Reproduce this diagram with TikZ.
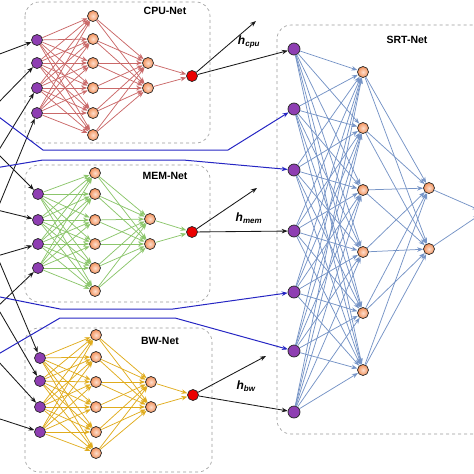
\documentclass[tikz,border=0pt]{standalone}
\usepackage{fontspec}
\setmainfont{Liberation Sans}
\usetikzlibrary{arrows.meta}

\definecolor{netpurple}{RGB}{142,62,178}
\definecolor{netorange}{RGB}{244,145,90}
\definecolor{cpucol}{RGB}{202,105,105}
\definecolor{memcol}{RGB}{140,198,108}
\definecolor{bwcol}{RGB}{224,172,30}
\definecolor{srtcol}{RGB}{118,148,198}
\definecolor{linkblue}{RGB}{38,38,195}

\tikzset{
  innode/.style={circle, draw=black!85, fill=netpurple, inner sep=0pt, minimum size=11pt, line width=0.7pt},
  hidnode/.style={circle, draw=black!85, inner sep=0pt, minimum size=11pt, line width=0.7pt,
    inner color=netorange!30, outer color=netorange},
  outnode/.style={circle, draw=black!85, fill=red!92!black, inner sep=0pt, minimum size=11pt, line width=0.7pt},
  netbox/.style={draw=gray!80, dashed, rounded corners=14pt, line width=0.6pt},
  netlabel/.style={font=\fontsize{10.5}{12}\selectfont\bfseries},
  hlabel/.style={font=\fontsize{12}{13}\selectfont\bfseries\itshape},
  feed/.style={->, black!90, line width=0.85pt},
  linkline/.style={->, linkblue, line width=1pt},
  cpuedge/.style={->, cpucol, line width=0.75pt},
  memedge/.style={->, memcol, line width=0.75pt},
  bwedge/.style={->, bwcol, line width=0.75pt},
  srtedge/.style={->, srtcol, line width=0.75pt}
}

\begin{document}
\begin{tikzpicture}[x=1pt, y=-1pt, >={Stealth[length=6pt,width=4.5pt]}]
\useasboundingbox (0,0) rectangle (474,474);
\clip (0,0) rectangle (474,474);

% sub-network frames
\draw[netbox] (25,2) rectangle (210,143);
\draw[netbox] (25,165) rectangle (210,302);
\draw[netbox] (25,328) rectangle (212,472);
\draw[netbox] (277,25) rectangle (510,434);
\node[netlabel] (cpulabel) at (165,11) {CPU-Net};
\node[netlabel] (memlabel) at (165,176) {MEM-Net};
\node[netlabel] (bwlabel) at (160,341) {BW-Net};
\node[netlabel] (srtlabel) at (407,40) {SRT-Net};

% CPU-Net
\foreach \y [count=\k] in {40,63,88,113} \node[innode] (ci\k) at (37,\y) {};
\foreach \y [count=\k] in {16,39,63,88,113,135} \node[hidnode] (ch\k) at (93,\y) {};
\foreach \y [count=\k] in {63,88} \node[hidnode] (cg\k) at (148,\y) {};
\node[outnode] (co) at (192,76) {};
\foreach \i in {1,...,4} \foreach \j in {1,...,6} \draw[cpuedge] (ci\i) -- (ch\j);
\foreach \i in {1,...,6} \foreach \j in {1,2} \draw[cpuedge] (ch\i) -- (cg\j);
\foreach \i in {1,2} \draw[cpuedge] (cg\i) -- (co);

% MEM-Net
\foreach \y [count=\k] in {194,220,244,268} \node[innode] (mi\k) at (38,\y) {};
\foreach \y [count=\k] in {173,194,220,244,268,291} \node[hidnode] (mh\k) at (95,\y) {};
\foreach \y [count=\k] in {219,244} \node[hidnode] (mg\k) at (150,\y) {};
\node[outnode] (mo) at (192,232) {};
\foreach \i in {1,...,4} \foreach \j in {1,...,6} \draw[memedge] (mi\i) -- (mh\j);
\foreach \i in {1,...,6} \foreach \j in {1,2} \draw[memedge] (mh\i) -- (mg\j);
\foreach \i in {1,2} \draw[memedge] (mg\i) -- (mo);

% BW-Net
\foreach \y [count=\k] in {358,381,407,432} \node[innode] (bi\k) at (40,\y) {};
\foreach \y [count=\k] in {335,357,382,407,432,453} \node[hidnode] (bh\k) at (96,\y) {};
\foreach \y [count=\k] in {382,407} \node[hidnode] (bg\k) at (151,\y) {};
\node[outnode] (bo) at (193,395) {};
\foreach \i in {1,...,4} \foreach \j in {1,...,6} \draw[bwedge] (bi\i) -- (bh\j);
\foreach \i in {1,...,6} \foreach \j in {1,2} \draw[bwedge] (bh\i) -- (bg\j);
\foreach \i in {1,2} \draw[bwedge] (bg\i) -- (bo);

% SRT-Net
\foreach \y [count=\k] in {49,109,170,231,292,351,412} \node[innode, minimum size=12pt] (si\k) at (294,\y) {};
\foreach \y [count=\k] in {72,128,190,252,313,370} \node[hidnode] (sh\k) at (363,\y) {};
\foreach \y [count=\k] in {188,249} \node[hidnode] (sg\k) at (429,\y) {};
\node[hidnode] (so) at (484,212) {};
\foreach \i in {1,...,7} \foreach \j in {1,...,6} \draw[srtedge] (si\i) -- (sh\j);
\foreach \i in {1,...,6} \foreach \j in {1,2} \draw[srtedge] (sh\i) -- (sg\j);
\foreach \i in {1,2} \draw[srtedge] (sg\i) -- (so);

% features coming in from the left
\coordinate (sa) at (-3,55);
\coordinate (sb) at (-3,104);
\coordinate (sc) at (-3,153);
\coordinate (sd) at (-3,210);
\coordinate (se) at (-3,256);
\coordinate (sf) at (-3,307);
\coordinate (sg) at (-3,360);
\coordinate (sh) at (-3,418);
\draw[feed] (sa) -- (ci1);
\draw[feed] (sb) -- (ci2);
\draw[feed] (sc) -- (ci3);
\draw[feed] (sd) -- (ci4);
\draw[feed] (sc) -- (mi1);
\draw[feed] (sd) -- (mi2);
\draw[feed] (se) -- (mi3);
\draw[feed] (sf) -- (mi4);
\draw[feed] (se) -- (bi1);
\draw[feed] (sf) -- (bi2);
\draw[feed] (sg) -- (bi3);
\draw[feed] (sh) -- (bi4);

% direct links into SRT-Net
\coordinate (la) at (-5,114);
\coordinate (lb) at (-5,168);
\coordinate (lc) at (-5,296);
\coordinate (ld) at (-5,356);
\draw[linkline] (la) -- (43,150) -- (228,150) -- (si2);
\draw[linkline] (lb) -- (43,160) -- (183,160) -- (si3);
\draw[linkline] (lc) -- (60,309) -- (173,309) -- (si5);
\draw[linkline] (ld) -- (60,318) -- (175,318) -- (si6);

% hidden states
\coordinate (hc) at (256,21);
\coordinate (hm) at (257,188);
\coordinate (hb) at (266,356);
\draw[feed] (co) -- (hc);
\draw[feed] (co) -- (si1);
\draw[feed] (mo) -- (hm);
\draw[feed] (mo) -- (si4);
\draw[feed] (bo) -- (hb);
\draw[feed] (bo) -- (si7);
\node[hlabel] (hcpu) at (249,42) {h\textsubscript{cpu}};
\node[hlabel] (hmem) at (249,218) {h\textsubscript{mem}};
\node[hlabel] (hbw) at (246,386) {h\textsubscript{bw}};
\end{tikzpicture}
\end{document}
